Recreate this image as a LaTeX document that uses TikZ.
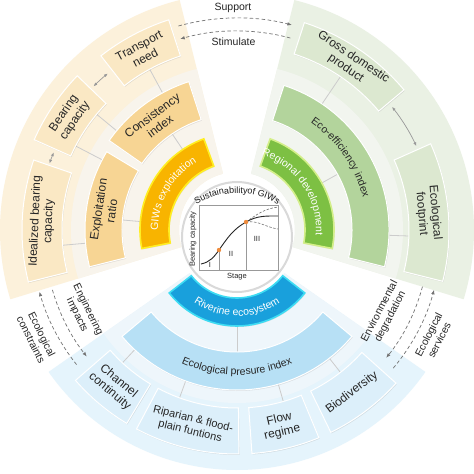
\documentclass[tikz,border=0pt]{standalone}
\usepackage{fontspec}
\setmainfont{Liberation Sans}
\usetikzlibrary{arrows.meta,decorations.text,shadows}

\definecolor{ybg}{HTML}{FCF1DB}
\definecolor{ytrack}{HTML}{F8F4EC}
\definecolor{yout}{HTML}{FAE8C4}
\definecolor{ymid}{HTML}{F7D594}
\definecolor{yin}{HTML}{F8B400}
\definecolor{yedge}{HTML}{FFEE22}
\definecolor{gbg}{HTML}{EAF1E4}
\definecolor{gtrack}{HTML}{F2F5EF}
\definecolor{gout}{HTML}{DCE8D0}
\definecolor{gmid}{HTML}{B3D49C}
\definecolor{gin}{HTML}{7DC043}
\definecolor{gedge}{HTML}{D4EF8A}
\definecolor{bbg}{HTML}{E5F4FC}
\definecolor{btrack}{HTML}{EEF6FB}
\definecolor{bout}{HTML}{DCEFFA}
\definecolor{bmid}{HTML}{B7E0F5}
\definecolor{bin}{HTML}{19A0DC}
\definecolor{bedge}{HTML}{3EDCF3}
\definecolor{stagedot}{HTML}{EE8B3C}

\newcommand{\boxfont}{\fontsize{12}{13.5}\selectfont}
\newcommand{\bandfont}{\fontsize{10.5}{12}\selectfont}
\newcommand{\tagfont}{\fontsize{10.5}{12}\selectfont}
\newcommand{\plotfont}{\fontsize{7.5}{8}\selectfont}

% ring piece: style, start angle, end angle, inner radius, outer radius
\newcommand{\ringpart}[5]{%
  \path[#1] (#2:#4) arc[start angle=#2, end angle=#3, radius=#4]
    -- (#3:#5) arc[start angle=#3, end angle=#2, radius=#5] -- cycle;}

\begin{document}
\begin{tikzpicture}[x=1pt, y=1pt,
    seg/.style={draw=white, line width=1pt,
      drop shadow={opacity=0.2, shadow xshift=0.7pt, shadow yshift=-1pt}},
    link/.style={draw=black!20, line width=0.8pt},
    pair/.style={draw=black!40, line width=0.7pt,
      {Latex[length=4pt,width=3pt]}-{Latex[length=4pt,width=3pt]}},
    flow/.style={draw=black!55, line width=0.7pt, dash pattern=on 3.5pt off 2.5pt,
      -{Latex[length=4.5pt,width=3.5pt]}},
    band/.style={decorate, decoration={text along path, text align=center,
      text color=white, text={|\bandfont|#1}}},
    dark band/.style={decorate, decoration={text along path, text align=center,
      text color=black!85, text={|\bandfont|#1}}}]
  \tikzset{every node/.style={align=center, text=black!85, inner sep=1pt}}
  \useasboundingbox (-237,-237) rectangle (237,237);
  \clip (-237,-237) rectangle (237,237);
  \fill[white] (-237,-237) rectangle (237,237);

  % exploitation and development sectors
  \begin{scope}[shift={(0,7)}]
    \ringpart{fill=ybg}{104}{197}{58}{237}
    \ringpart{fill=ytrack}{104}{197}{58}{166}
    \ringpart{fill=gbg}{-17}{76}{58}{237}
    \ringpart{fill=gtrack}{-17}{76}{58}{166}

    \coordinate (y1a) at (124:97);    \coordinate (y1b) at (124:116);
    \coordinate (y2a) at (175:97);    \coordinate (y2b) at (175:115);
    \coordinate (y3a) at (118.5:156); \coordinate (y3b) at (118.5:183);
    \coordinate (y4a) at (140.5:156); \coordinate (y4b) at (140.5:182);
    \coordinate (y5a) at (152.5:152); \coordinate (y5b) at (152.5:182);
    \coordinate (y6a) at (185:152);   \coordinate (y6b) at (185:175);
    \coordinate (g1a) at (29:97);     \coordinate (g1b) at (29:115);
    \coordinate (g2a) at (56:152);    \coordinate (g2b) at (56:185);
    \coordinate (g3a) at (-2:152);    \coordinate (g3b) at (-2:172);
    \foreach \a/\b in {y1a/y1b, y2a/y2b, y3a/y3b, y4a/y4b, y5a/y5b, y6a/y6b,
                       g1a/g1b, g2a/g2b, g3a/g3b}
      \draw[link] (\a) -- (\b);

    \ringpart{seg, fill=yin, draw=yedge, line width=1.6pt}{110}{191}{68}{97}
    \ringpart{seg, fill=ymid}{108}{145}{116}{156}
    \ringpart{seg, fill=ymid}{149}{194}{115}{152}
    \ringpart{seg, fill=yout}{108}{128}{183}{221}
    \ringpart{seg, fill=yout}{136}{156}{182}{222}
    \ringpart{seg, fill=yout}{161}{194}{175}{215}

    \ringpart{seg, fill=gin, draw=gedge, line width=1.6pt}{-11}{70}{68}{97}
    \ringpart{seg, fill=gmid}{-14}{72}{115}{152}
    \ringpart{seg, fill=gout}{40}{72}{185}{218}
    \ringpart{seg, fill=gout}{-14}{24}{172}{212}

    \path[band={GIWs exploitation}] (191:79) arc[start angle=191, end angle=110, radius=79];
    \path[band={Regional development}] (74:79) arc[start angle=74, end angle=-6, radius=79];
    \path[dark band={Eco-efficiency index}] (72:130) arc[start angle=72, end angle=-2, radius=130];

    \node[font=\boxfont, rotate=28] (transport) at (118:202) {Transport\\need};
    \node[font=\boxfont, rotate=56] (bearing) at (146:202) {Bearing\\capacity};
    \node[font=\boxfont, rotate=87.5] (ideal) at (177.5:195) {Idealized bearing\\capacity};
    \node[font=\boxfont, rotate=36.5] (consist) at (126.5:136) {Consistency\\index};
    \node[font=\boxfont, rotate=81.5] (ratio) at (171.5:133.5) {Exploitation\\ratio};
    \node[font=\boxfont, rotate=-34] (gdp) at (56:201.5) {Gross domestic\\product};
    \node[font=\boxfont, rotate=-85] (footprint) at (5:192) {Ecological\\footprint};

    \coordinate (p1a) at (129.5:203); \coordinate (p2a) at (157:199);
    \coordinate (p3a) at (38.5:198);
    \draw[pair] (p1a) arc[start angle=129.5, end angle=135, radius=203];
    \draw[pair] (p2a) arc[start angle=157, end angle=160.5, radius=199];
    \draw[pair] (p3a) arc[start angle=38.5, end angle=25, radius=198];
  \end{scope}

  % ecosystem sector
  \begin{scope}[shift={(0,-3)}]
    \ringpart{fill=bbg}{215}{325}{58}{230}
    \ringpart{fill=btrack}{215}{325}{58}{163}

    \coordinate (b1a) at (270:86);  \coordinate (b1b) at (270:112);
    \coordinate (b2a) at (227:150); \coordinate (b2b) at (227:168);
    \coordinate (b3a) at (250:150); \coordinate (b3b) at (250:168);
    \coordinate (b4a) at (286:150); \coordinate (b4b) at (286:168);
    \coordinate (b5a) at (308:150); \coordinate (b5b) at (308:168);
    \foreach \a/\b in {b1a/b1b, b2a/b2b, b3a/b3b, b4a/b4b, b5a/b5b}
      \draw[link] (\a) -- (\b);

    \ringpart{seg, fill=bin, draw=bedge, line width=1.6pt}{218}{322}{58}{86}
    \ringpart{seg, fill=bmid}{220}{320}{112}{150}
    \ringpart{seg, fill=bout}{221}{239}{168}{214}
    \ringpart{seg, fill=bout}{242}{270.5}{168}{214}
    \ringpart{seg, fill=bout}{274}{292.5}{168}{214}
    \ringpart{seg, fill=bout}{296}{318}{168}{214}

    \path[band={Riverine ecosystem}] (218:76) arc[start angle=218, end angle=322, radius=76];
    \path[dark band={Ecological presure index}] (220:135) arc[start angle=220, end angle=320, radius=135];

    \node[font=\boxfont, rotate=-40] (channel) at (230:191) {Channel\\continuity};
    \node[font=\fontsize{11}{12.5}\selectfont, rotate=-13.75] (riparian) at (256.25:191) {Riparian \& flood-\\plain funtions};
    \node[font=\boxfont, rotate=13.25] (flow) at (283.25:191) {Flow\\regime};
    \node[font=\boxfont, rotate=37] (biodiv) at (307:191) {Biodiversity};
  \end{scope}

  % feedback arrows between the sectors
  \coordinate (sup) at (105.5:219);  \coordinate (sti) at (75:206);
  \coordinate (con) at (218.5:205);  \coordinate (eng) at (196:192);
  \coordinate (deg) at (-15:192);    \coordinate (ser) at (-40:204);
  \draw[flow] (sup) arc[start angle=105.5, end angle=75.5, radius=219];
  \draw[flow] (sti) arc[start angle=75, end angle=106, radius=206];
  \draw[flow] (con) arc[start angle=218.5, end angle=195.5, radius=205];
  \draw[flow] (eng) arc[start angle=196, end angle=218.5, radius=192];
  \draw[flow] (deg) arc[start angle=-15, end angle=-39, radius=192];
  \draw[flow] (ser) arc[start angle=-40, end angle=-15, radius=204];

  \node[font=\tagfont] (support) at (91:229) {Support};
  \node[font=\tagfont] (stimulate) at (91:195) {Stimulate};
  \node[font=\tagfont, rotate=-64] (impacts) at (206:172) {Engineering\\impacts};
  \node[font=\tagfont, rotate=-63.5] (constraints) at (206.5:224) {Ecological\\constraints};
  \node[font=\tagfont, rotate=62.5] (degradation) at (-27.5:167) {Environmental\\degradation};
  \node[font=\tagfont, rotate=63] (services) at (-27:221) {Ecological\\services};

  % sustainability curve in the middle
  \node[circle, draw=black!15, line width=2pt, fill=white, minimum size=110pt,
    inner sep=0pt] (core) at (0,0) {};
  \path[decorate, decoration={text along path, text align=center,
    text color=black!90, text={|\fontsize{9}{10}\selectfont|Sustainabilityof GIWs}}]
    (-45.3,29.7) arc[start angle=125, end angle=55, radius=79];
  \draw[black!40, line width=0.5pt] (-38,-33) rectangle (41,32);
  \draw[black!40, line width=0.5pt] (-18,-13) -- (-18,-33) (9,15) -- (9,-33);
  \draw[black!85, line width=0.9pt] (-36,-27) to[out=12,in=235] (-18,-13)
    to[out=55,in=210] (9,15) to[out=30,in=180] (41,21);
  \draw[black!55, line width=0.6pt, dash pattern=on 2.5pt off 1.5pt]
    (9,15) to[out=35,in=188] (41,30);
  \draw[black!55, line width=0.6pt, dash pattern=on 2.5pt off 1.5pt]
    (9,15) to[out=8,in=172] (41,8);
  \fill[stagedot] (-18,-13) circle[radius=2.2];
  \fill[stagedot] (9,15) circle[radius=2.2];
  \node[font=\plotfont] (st1) at (-27,-28) {I};
  \node[font=\plotfont] (st2) at (-6,-17) {II};
  \node[font=\plotfont] (st3) at (20,-2) {III};
  \node[font=\plotfont, rotate=90] (yaxis) at (-44,-2) {Bearing capacity};
  \node[font=\plotfont] (xaxis) at (0,-40) {Stage};
\end{tikzpicture}
\end{document}
